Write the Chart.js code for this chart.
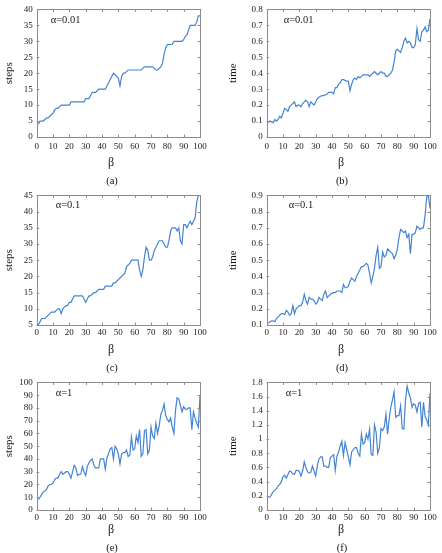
<!DOCTYPE html>
<html>
<head>
<meta charset="utf-8">
<script src="https://cdn.jsdelivr.net/npm/chart.js@4.4.0/dist/chart.umd.min.js"></script>
<style>
  html, body { margin: 0; padding: 0; background: #fff; }
  body { position: relative; width: 442px; height: 553px; overflow: hidden; font-family: "Liberation Serif", serif; }
  canvas { position: absolute; }
  .cap { position: absolute; font-size: 10.5px; color: #111; transform: translate(-50%, -50%); white-space: nowrap; }
</style>
</head>
<body>
<canvas id="pa"></canvas>
<canvas id="pb"></canvas>
<canvas id="pc"></canvas>
<canvas id="pd"></canvas>
<canvas id="pe"></canvas>
<canvas id="pf"></canvas>
<div class="cap" style="left:112px;top:180px">(a)</div>
<div class="cap" style="left:342px;top:180px">(b)</div>
<div class="cap" style="left:112px;top:367px">(c)</div>
<div class="cap" style="left:342px;top:367px">(d)</div>
<div class="cap" style="left:112px;top:547px">(e)</div>
<div class="cap" style="left:342px;top:547px">(f)</div>
<script>
'use strict';

/* ── Data ── */
const BETA = [
  1, 2, 3, 4, 5, 6, 7, 8, 9, 10, 11, 12, 13, 14, 15, 16, 17, 18, 19, 20,
  21, 22, 23, 24, 25, 26, 27, 28, 29, 30, 31, 32, 33, 34, 35, 36, 37, 38, 39, 40,
  41, 42, 43, 44, 45, 46, 47, 48, 49, 50, 51, 52, 53, 54, 55, 56, 57, 58, 59, 60,
  61, 62, 63, 64, 65, 66, 67, 68, 69, 70, 71, 72, 73, 74, 75, 76, 77, 78, 79, 80,
  81, 82, 83, 84, 85, 86, 87, 88, 89, 90, 91, 92, 93, 94, 95, 96, 97, 98, 99, 100,
];

const X_TICKS = [0, 10, 20, 30, 40, 50, 60, 70, 80, 90, 100];

// (a) steps, alpha = 0.01
const STEPS_A001 = [
  4, 5, 5, 5, 5.5, 6, 6, 6.5, 7, 7.5,
  8.5, 9, 9, 9.5, 10, 10, 10, 10, 10, 10,
  11, 11, 11, 11, 11, 11, 11, 11, 11, 12,
  12, 12, 13, 14, 14, 14, 14.5, 15, 15, 15,
  15, 15, 16, 17, 18, 19, 20, 19.5, 19, 18.5,
  16, 19, 20, 20, 20.5, 21, 21, 21, 21, 21,
  21, 21, 21, 21, 21.5, 22, 22, 22, 22, 22,
  22, 21.5, 21, 21, 21.5, 22, 23, 26, 28, 29,
  29, 29, 29, 30, 30, 30, 30, 30, 30, 30.5,
  31.5, 32, 33.5, 35, 35, 35, 35, 36, 38, 38,
];

// (b) time, alpha = 0.01
const TIME_A001 = [
  0.09, 0.10, 0.095, 0.09, 0.11, 0.10, 0.11, 0.13, 0.12, 0.15,
  0.18, 0.17, 0.16, 0.19, 0.20, 0.21, 0.22, 0.19, 0.20, 0.20,
  0.19, 0.21, 0.22, 0.23, 0.22, 0.19, 0.22, 0.21, 0.20, 0.22,
  0.24, 0.25, 0.255, 0.26, 0.26, 0.265, 0.27, 0.28, 0.28, 0.28,
  0.27, 0.31, 0.31, 0.33, 0.34, 0.36, 0.36, 0.355, 0.35, 0.35,
  0.29, 0.33, 0.36, 0.37, 0.36, 0.38, 0.37, 0.38, 0.39, 0.39,
  0.39, 0.39, 0.38, 0.39, 0.40, 0.41, 0.40, 0.39, 0.40, 0.41,
  0.40, 0.40, 0.38, 0.38, 0.39, 0.40, 0.42, 0.47, 0.54, 0.55,
  0.54, 0.53, 0.56, 0.60, 0.62, 0.59, 0.60, 0.59, 0.56, 0.56,
  0.58, 0.68, 0.61, 0.60, 0.66, 0.67, 0.69, 0.66, 0.67, 0.74,
];

// (c) steps, alpha = 0.1
const STEPS_A01 = [
  5, 6, 7, 7, 7, 7.5, 8, 8.5, 9, 9,
  9, 9.5, 10, 10, 8.5, 10, 10.5, 11, 11, 12,
  12, 13, 14, 14, 14, 14, 14, 14, 13, 12,
  13, 14, 14, 14.5, 15, 15, 15.5, 16, 16, 16,
  16, 17, 17, 17, 17, 17, 18, 18, 18.5, 19,
  19.5, 20, 20.5, 21, 23, 23.5, 24, 25, 25, 25,
  25, 25, 22, 20, 22, 26, 29, 28, 25, 25,
  26, 28, 29, 30, 31, 31, 31, 30, 29, 29,
  31, 34, 35, 35, 35, 34, 35, 31, 30, 36,
  36, 35, 36, 37, 36, 37, 38, 43, 45, 45,
];

// (d) time, alpha = 0.1
const TIME_A01 = [
  0.11, 0.12, 0.125, 0.125, 0.12, 0.14, 0.15, 0.16, 0.17, 0.17,
  0.165, 0.19, 0.18, 0.16, 0.17, 0.22, 0.17, 0.20, 0.21, 0.22,
  0.22, 0.24, 0.29, 0.25, 0.23, 0.27, 0.26, 0.26, 0.25, 0.23,
  0.24, 0.27, 0.26, 0.25, 0.29, 0.31, 0.27, 0.28, 0.29, 0.295,
  0.30, 0.30, 0.31, 0.31, 0.31, 0.30, 0.35, 0.33, 0.33, 0.34,
  0.37, 0.39, 0.38, 0.37, 0.40, 0.42, 0.44, 0.46, 0.46, 0.47,
  0.48, 0.47, 0.42, 0.36, 0.40, 0.45, 0.53, 0.58, 0.45, 0.46,
  0.55, 0.52, 0.53, 0.57, 0.56, 0.55, 0.54, 0.51, 0.53, 0.57,
  0.64, 0.69, 0.68, 0.67, 0.68, 0.64, 0.66, 0.54, 0.66, 0.66,
  0.67, 0.71, 0.70, 0.69, 0.70, 0.70, 0.78, 0.89, 0.90, 0.82,
];

// (e) steps, alpha = 1
const STEPS_A1 = [
  8, 10, 12, 14, 15, 16, 19, 20, 20, 21,
  24, 25, 25, 28, 30, 28, 29, 30, 30, 28,
  25, 30, 35, 33, 27, 28, 28, 34, 30, 27,
  34, 37, 39, 40, 35, 33, 33, 33, 40, 40,
  40, 32, 41, 44, 48, 49, 40, 50, 48, 44,
  36, 44, 45, 45, 47, 42, 43, 57, 47, 48,
  58, 53, 63, 42, 44, 62, 63, 44, 47, 65,
  58, 56, 68, 60, 66, 75, 78, 83, 74, 71,
  69, 72, 65, 60, 78, 88, 87, 82, 77, 81,
  79, 79, 80, 80, 63, 77, 72, 68, 65, 90,
];

// (f) time, alpha = 1
const TIME_A1 = [
  0.18, 0.18, 0.22, 0.26, 0.28, 0.30, 0.34, 0.36, 0.40, 0.47,
  0.49, 0.45, 0.50, 0.55, 0.54, 0.51, 0.50, 0.56, 0.56, 0.54,
  0.48, 0.55, 0.68, 0.60, 0.54, 0.52, 0.53, 0.62, 0.55, 0.48,
  0.62, 0.72, 0.75, 0.75, 0.62, 0.62, 0.60, 0.60, 0.74, 0.76,
  0.78, 0.56, 0.76, 0.82, 0.90, 0.97, 0.77, 0.95, 0.85, 0.75,
  0.64, 0.82, 0.85, 0.88, 0.88, 0.80, 0.76, 1.07, 0.93, 0.95,
  1.07, 1.00, 1.14, 0.78, 0.77, 1.20, 1.10, 0.80, 0.88, 1.15,
  1.12, 1.17, 1.35, 1.07, 1.28, 1.45, 1.55, 1.67, 1.31, 1.33,
  1.33, 1.47, 1.15, 1.14, 1.55, 1.75, 1.65, 1.58, 1.45, 1.50,
  1.48, 1.38, 1.50, 1.52, 1.17, 1.52, 1.32, 1.27, 1.20, 1.65,
];

/* ── Look ── */
const FONT = '"Liberation Serif", "Times New Roman", serif';
const LINE_COLOR = '#4584d2';
const FRAME_COLOR = '#8c8c8c';
const TEXT_COLOR = '#1a1a1a';

// canvas boxes + axis sizes (pixels), per panel
const PANELS = [
  { id: 'pa', y: STEPS_A001, yTitle: 'steps', label: 'α=0.01', min: 0,   max: 40,  step: 5,   left: 0,   top: 0,   w: 215, h: 171, yw: 36.7, padR: 15, padT: 9, tickPad: 4.5, titlePad: 0.7, yTitlePad: 2.4, dx: 14, dy: 11 },
  { id: 'pb', y: TIME_A001,  yTitle: 'time',  label: 'α=0.01', min: 0,   max: 0.8, step: 0.1, left: 221, top: 0,   w: 221, h: 171, yw: 45.7, padR: 12, padT: 9, tickPad: 4.5, titlePad: 0.7, yTitlePad: 5.4, dx: 17, dy: 11 },
  { id: 'pc', y: STEPS_A01,  yTitle: 'steps', label: 'α=0.1',  min: 5,   max: 45,  step: 5,   left: 0,   top: 186, w: 215, h: 173, yw: 36.7, padR: 15, padT: 9, tickPad: 2.3, titlePad: 2.4, yTitlePad: 2.4, dx: 19, dy: 10 },
  { id: 'pd', y: TIME_A01,   yTitle: 'time',  label: 'α=0.1',  min: 0.1, max: 0.9, step: 0.1, left: 221, top: 186, w: 221, h: 173, yw: 45.7, padR: 12, padT: 9, tickPad: 2.3, titlePad: 2.4, yTitlePad: 5.4, dx: 22, dy: 10 },
  { id: 'pe', y: STEPS_A1,   yTitle: 'steps', label: 'α=1',    min: 0,   max: 100, step: 10,  left: 0,   top: 373, w: 215, h: 171, yw: 36.7, padR: 15, padT: 9, tickPad: 2.3, titlePad: 7.4, yTitlePad: 2.4, dx: 19, dy: 11 },
  { id: 'pf', y: TIME_A1,    yTitle: 'time',  label: 'α=1',    min: 0,   max: 1.8, step: 0.2, left: 221, top: 373, w: 221, h: 171, yw: 45.7, padR: 12, padT: 9, tickPad: 2.3, titlePad: 7.4, yTitlePad: 5.4, dx: 19, dy: 11 },
];

/* ── Box frame, inward ticks on all four sides, alpha label ── */
const framePlugin = {
  id: 'frame',
  afterDraw(chart, args, opts) {
    const { ctx, chartArea: a, scales } = chart;
    const tl = 2.5;
    ctx.save();
    ctx.strokeStyle = FRAME_COLOR;
    ctx.lineWidth = 1;
    ctx.beginPath();
    scales.x.ticks.forEach(t => {
      const px = Math.round(scales.x.getPixelForValue(t.value)) + 0.5;
      ctx.moveTo(px, a.bottom); ctx.lineTo(px, a.bottom - tl);
      ctx.moveTo(px, a.top); ctx.lineTo(px, a.top + tl);
    });
    scales.y.ticks.forEach(t => {
      const py = Math.round(scales.y.getPixelForValue(t.value)) + 0.5;
      ctx.moveTo(a.left, py); ctx.lineTo(a.left + tl, py);
      ctx.moveTo(a.right, py); ctx.lineTo(a.right - tl, py);
    });
    ctx.stroke();
    ctx.strokeRect(Math.round(a.left) + 0.5, Math.round(a.top) + 0.5,
      Math.round(a.right - a.left), Math.round(a.bottom - a.top));

    ctx.fillStyle = TEXT_COLOR;
    ctx.font = '10.5px ' + FONT;
    ctx.textAlign = 'left';
    ctx.textBaseline = 'middle';
    ctx.fillText(opts.text, a.left + opts.dx, a.top + opts.dy);
    ctx.restore();
  },
};

function fmt(v) {
  return String(+v.toFixed(2));
}

function makeChart(p) {
  const cv = document.getElementById(p.id);
  cv.style.left = p.left + 'px';
  cv.style.top = p.top + 'px';
  cv.width = p.w;
  cv.height = p.h;

  return new Chart(cv, {
    type: 'line',
    data: {
      datasets: [{
        data: BETA.map((b, i) => ({ x: b, y: p.y[i] })),
        borderColor: LINE_COLOR,
        borderWidth: 1.2,
        pointRadius: 0,
        tension: 0,
        fill: false,
      }],
    },
    options: {
      responsive: false,
      animation: false,
      events: [],
      layout: { padding: { top: p.padT, right: p.padR, left: 0, bottom: 0 } },
      plugins: {
        legend: { display: false },
        tooltip: { enabled: false },
        frame: { text: p.label, dx: p.dx, dy: p.dy },
      },
      scales: {
        x: {
          type: 'linear',
          min: 0,
          max: 100,
          afterBuildTicks: s => { s.ticks = X_TICKS.map(v => ({ value: v })); },
          afterFit: s => { s.height = 34; },
          grid: { display: false, drawTicks: false },
          border: { display: false },
          ticks: { color: TEXT_COLOR, font: { family: FONT, size: 9 }, padding: p.tickPad, maxRotation: 0, autoSkip: false },
          // trailing spaces nudge the centred β a little left, as in the source figure
          title: { display: true, text: 'β\u2003\u2009', color: TEXT_COLOR, font: { family: FONT, size: 12 }, padding: { top: 0, bottom: p.titlePad } },
        },
        y: {
          min: p.min,
          max: p.max,
          afterFit: s => { s.width = p.yw; },
          grid: { display: false, drawTicks: false },
          border: { display: false },
          ticks: { stepSize: p.step, autoSkip: false, color: TEXT_COLOR, font: { family: FONT, size: 9 }, padding: 4, callback: fmt },
          title: { display: true, text: p.yTitle, color: TEXT_COLOR, font: { family: FONT, size: 11 }, padding: { top: p.yTitlePad, bottom: 0 } },
        },
      },
    },
    plugins: [framePlugin],
  });
}

PANELS.forEach(makeChart);
</script>
</body>
</html>
